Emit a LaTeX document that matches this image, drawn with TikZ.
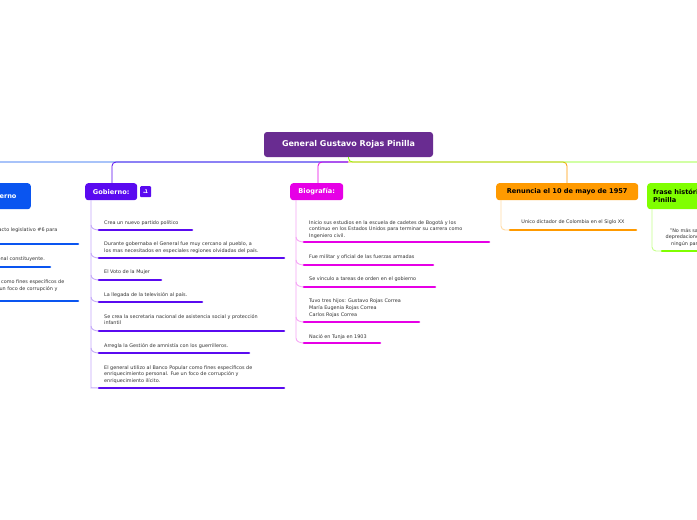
\documentclass[tikz,border=0pt]{standalone}
\usepackage{fontspec}
\setmainfont{DejaVu Sans}
\definecolor{cRoot}{HTML}{692C91}
\definecolor{cBlue}{HTML}{0A55F0}
\definecolor{cPur}{HTML}{5A0AF0}
\definecolor{cMag}{HTML}{E600E6}
\definecolor{cOra}{HTML}{FF9A00}
\definecolor{cGre}{HTML}{80FF00}
\definecolor{cTxt}{HTML}{333333}
\tikzset{
 head/.style={rounded corners=3pt,inner sep=0pt,font=\fontsize{6.6}{7.8}\selectfont\bfseries,align=left},
 item/.style={anchor=north west,inner sep=0pt,text=cTxt,font=\fontsize{4.9}{6.7}\selectfont,align=left},
 bar/.style={line width=2.6pt,line cap=round},
 conn/.style={line width=0.8pt,rounded corners=4pt},
}
\begin{document}
\begin{tikzpicture}[x=1pt,y=-1pt]
\useasboundingbox (0,0) rectangle (697,520);
\clip (0,0) rectangle (697,520);
\fill[white] (0,0) rectangle (697,520);
% root
\node[fill=cRoot,rounded corners=3pt,minimum width=169pt,minimum height=25pt,text=white,font=\fontsize{8}{9}\selectfont\bfseries] (root) at (348.5,144.5) {General Gustavo Rojas Pinilla};
\coordinate (hub) at (348,162);
% heads
\node[head,fill=cBlue,text=white,minimum width=90pt,minimum height=26pt,anchor=north east,align=right,inner xsep=5pt] (fin) at (31,183) {Fin del Gobierno};
\node[head,fill=cPur,text=white,minimum width=52pt,minimum height=17pt,anchor=north west,align=center] (gob) at (85,183) {Gobierno:};
\node[fill=cPur,rounded corners=1pt,minimum size=11pt,inner sep=0pt,anchor=north west,text=white,font=\fontsize{6}{6}\selectfont\bfseries] (ico) at (140,186) {-\kern-1pt\raisebox{1pt}{\tiny 1}};
\node[head,fill=cMag,text=white,minimum width=53pt,minimum height=17pt,anchor=north west,align=center] (bio) at (290,183) {Biografía:};
\node[head,fill=cOra,text=black,minimum width=142pt,minimum height=17pt,anchor=north west,align=center] (ren) at (496,183) {Renuncia el 10 de mayo de 1957};
\node[head,fill=cGre,text=black,minimum width=110pt,minimum height=26pt,anchor=north west,inner xsep=6pt,text width=98pt] (fra) at (647,183) {frase histórica de Rojas\\Pinilla};
% connectors root -> heads
\draw[conn,cBlue] (hub) -| (-10,183);
\draw[conn,cPur] (hub) -| (112,183);
\draw[conn,cMag] (hub) -| (318,183);
\draw[conn,cOra] (hub) -| (567,183);
\draw[conn,cGre] (root.south) |- (697,162);
% Fin del gobierno children (clipped)
\draw[bar,cBlue] (-30,244) coordinate (f1) -- (78,244);
\draw[bar,cBlue] (-30,267) coordinate (f2) -- (50,267);
\draw[bar,cBlue] (-30,301) coordinate (f3) -- (78,301);
\node[item,anchor=north east] (ft1) at (57.5,227.5) {Se creó el acto legislativo \#6 para};
\node[item,anchor=north east] (ft2) at (45,256.5) {a la Asamblea Nacional constituyente.};
\node[item,anchor=north east,align=left] (ft3) at (64.5,279.5) {Banco Popular como fines específicos de\\personal. Fue un foco de corrupción y};
% Gobierno children
\draw[conn,cPur!35,line width=0.9pt] (91,200) -- (91,384) to[out=-90,in=180] (99,388);
\foreach \y/\e in {230/192,258/284,280/161,302/202,331/284,353/249}{
  \draw[cPur!35,line width=0.9pt] (91,\y-5) to[out=-90,in=180] (99,\y);
  \draw[bar,cPur] (99,\y) -- (\e,\y);
}
\draw[bar,cPur] (99,388) -- (284,388);
\node[item] (g1) at (104,220) {Crea un nuevo partido político};
\node[item] (g2) at (104,242) {Durante gobernaba el General fue muy cercano al pueblo, a\\los mas necesitados en especiales regiones olvidadas del país.};
\node[item] (g3) at (104,270) {El Voto de la Mujer};
\node[item] (g4) at (104,292) {La llegada de la televisión al país.};
\node[item] (g5) at (104,314) {Se crea la secretaria nacional de asistencia social y protección\\infantil};
\node[item] (g6) at (104,343) {Arregla la Gestión de amnistía con los guerrilleros.};
\node[item] (g7) at (104,365) {El general utilizo al Banco Popular como fines específicos de\\enriquecimiento personal. Fue un foco de corrupción y\\enriquecimiento ilícito.};
% Biografia children
\draw[cMag!35,line width=0.9pt] (296,200) -- (296,338) to[out=-90,in=180] (304,343);
\foreach \y/\e in {242/489,265/433,287/435,322/419}{
  \draw[cMag!35,line width=0.9pt] (296,\y-5) to[out=-90,in=180] (304,\y);
  \draw[bar,cMag] (304,\y) -- (\e,\y);
}
\draw[bar,cMag] (304,343) -- (380,343);
\node[item] (b1) at (309,220) {Inicio sus estudios en la escuela de cadetes de Bogotá y los\\continuo en los Estados Unidos para terminar su carrera como\\Ingeniero civil.};
\node[item] (b2) at (309,255) {Fue militar y oficial de las fuerzas armadas};
\node[item] (b3) at (309,277) {Se vinculo a tareas de orden en el gobierno};
\node[item] (b4) at (309,299) {Tuvo tres hijos: Gustavo Rojas Correa\\María Eugenia Rojas Correa\\Carlos Rojas Correa};
\node[item] (b5) at (309,334) {Nació en Tunja en 1903};
% Renuncia child
\draw[conn,cOra!35,line width=0.9pt] (501,200) |- (510,230);
\draw[bar,cOra] (510,230) -- (636,230);
\node[item,anchor=north] (r1) at (573,220) {Unico dictador de Colombia en el Siglo XX};
% frase child
\draw[conn,cGre!45,line width=0.9pt] (652,209) |- (662,251);
\draw[bar,cGre] (662,251) -- (720,251);
\node[item,anchor=north,align=center] (q1) at (700,228) {"No más sangre, no más\\depredaciones a nombre de\\ningún partido político"};
\end{tikzpicture}
\end{document}
